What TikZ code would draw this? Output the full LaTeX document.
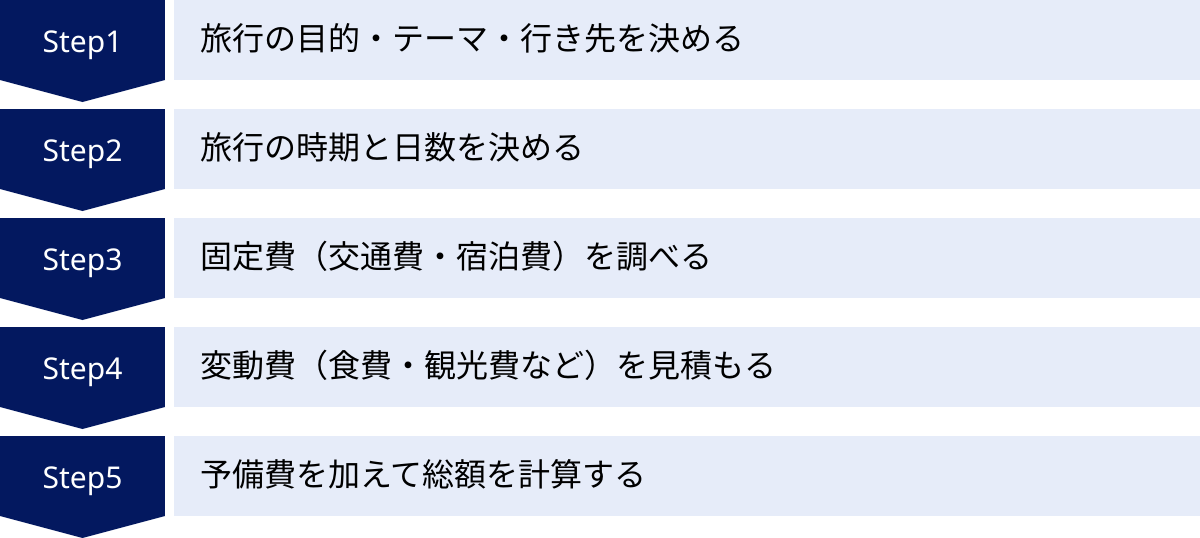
\documentclass[tikz,border=0pt]{standalone}
\usepackage{fontspec}
\setmainfont{Noto Sans}
\newfontfamily\jpfont{Noto Sans CJK JP}
\usepackage{tikz}
\usetikzlibrary{positioning}
\definecolor{stepnavy}{HTML}{03185F}
\definecolor{rowblue}{HTML}{E6ECF9}

\begin{document}
\begin{tikzpicture}[x=1pt,y=-1pt]
            \useasboundingbox (0,0) rectangle (1200,538);

            % navy step blocks and light rows
            \begin{scope}[every node/.style={inner sep=0pt,outer sep=0pt,anchor=north west}]
                \node[fill=stepnavy,minimum width=165pt,minimum height=80pt] (S1) at (0,0) {};
                \node[fill=stepnavy,minimum width=165pt,minimum height=80pt] (S2) at (0,109) {};
                \node[fill=stepnavy,minimum width=165pt,minimum height=80pt] (S3) at (0,218) {};
                \node[fill=stepnavy,minimum width=165pt,minimum height=80pt] (S4) at (0,327) {};
                \node[fill=stepnavy,minimum width=165pt,minimum height=80pt] (S5) at (0,436) {};
                \node[fill=rowblue,minimum width=1026pt,minimum height=80pt] (R1) at (174,0) {};
                \node[fill=rowblue,minimum width=1026pt,minimum height=80pt] (R2) at (174,109) {};
                \node[fill=rowblue,minimum width=1026pt,minimum height=80pt] (R3) at (174,218) {};
                \node[fill=rowblue,minimum width=1026pt,minimum height=80pt] (R4) at (174,327) {};
                \node[fill=rowblue,minimum width=1026pt,minimum height=80pt] (R5) at (174,436) {};
            \end{scope}

            % arrow points under the step blocks
            \begin{scope}[fill=stepnavy]
                \fill (S1.south west) -- (S1.south east) -- ([yshift=-22pt]S1.south) -- cycle;
                \fill (S2.south west) -- (S2.south east) -- ([yshift=-22pt]S2.south) -- cycle;
                \fill (S3.south west) -- (S3.south east) -- ([yshift=-22pt]S3.south) -- cycle;
                \fill (S4.south west) -- (S4.south east) -- ([yshift=-22pt]S4.south) -- cycle;
                \fill (S5.south west) -- (S5.south east) -- ([yshift=-22pt]S5.south) -- cycle;
            \end{scope}

            % step labels
            \begin{scope}[every node/.style={text=white,anchor=base,inner sep=0pt,font=\fontsize{30}{36}\selectfont}]
                \node (L1) at (82.5,52) {Step1};
                \node (L2) at (82.5,161) {Step2};
                \node (L3) at (82.5,270) {Step3};
                \node (L4) at (82.5,379) {Step4};
                \node (L5) at (82.5,488) {Step5};
            \end{scope}

            % row texts
            \begin{scope}[every node/.style={text=black,anchor=base west,inner sep=0pt,font=\jpfont\fontsize{32}{38}\selectfont}]
                \node (T1) at (200,50) {旅行の目的・テーマ・行き先を決める};
                \node (T2) at (200,159) {旅行の時期と日数を決める};
                \node (T3) at (200,268) {固定費（交通費・宿泊費）を調べる};
                \node (T4) at (200,377) {変動費（食費・観光費など）を見積もる};
                \node (T5) at (200,486) {予備費を加えて総額を計算する};
            \end{scope}
        \end{tikzpicture}
\end{document}
